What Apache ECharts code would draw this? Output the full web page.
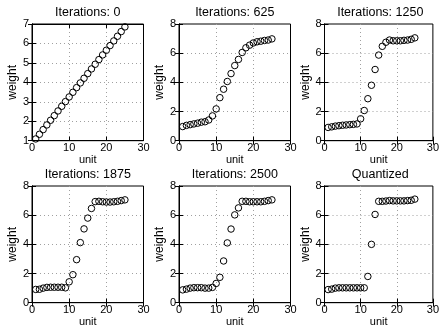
<!DOCTYPE html>
<html>
<head>
<meta charset="utf-8">
<script src="https://cdn.jsdelivr.net/npm/echarts@6/dist/echarts.min.js"></script>
<style>
  html, body { margin: 0; padding: 0; background: #fff; }
  #chart { width: 442px; height: 329px; }
</style>
</head>
<body>
<div id="chart"></div>
<script>
// Unit indices shared by every panel
const units = [1, 2, 3, 4, 5, 6, 7, 8, 9, 10, 11, 12, 13, 14, 15, 16, 17, 18, 19, 20, 21, 22, 23, 24, 25];

// Weight per unit at each training snapshot
const weightsIter0 = [1.09, 1.33, 1.57, 1.81, 2.05, 2.29, 2.53, 2.77, 3.01, 3.25, 3.49, 3.73, 3.97, 4.21, 4.45, 4.69, 4.93, 5.17, 5.41, 5.65, 5.89, 6.13, 6.37, 6.61, 6.85];
const weightsIter625 = [0.97, 1.05, 1.10, 1.15, 1.20, 1.27, 1.30, 1.42, 1.70, 2.18, 2.95, 3.53, 4.06, 4.60, 5.15, 5.57, 6.05, 6.37, 6.55, 6.70, 6.78, 6.82, 6.87, 6.90, 6.98];
const weightsIter1250 = [0.91, 0.95, 1.00, 1.03, 1.06, 1.08, 1.10, 1.12, 1.15, 1.50, 2.07, 2.88, 3.80, 4.88, 5.87, 6.47, 6.75, 6.90, 6.85, 6.85, 6.85, 6.88, 6.90, 6.95, 7.05];
const weightsIter1875 = [0.91, 0.92, 1.00, 1.05, 1.06, 1.06, 1.06, 1.06, 1.02, 1.43, 1.92, 2.95, 4.12, 5.06, 5.80, 6.46, 6.93, 6.95, 6.92, 6.90, 6.90, 6.92, 6.95, 7.00, 7.05];
const weightsIter2500 = [0.88, 0.93, 1.00, 1.03, 1.03, 1.03, 1.00, 1.00, 1.05, 1.32, 1.74, 2.86, 4.10, 5.05, 6.02, 6.50, 6.95, 6.95, 6.92, 6.92, 6.92, 6.92, 6.95, 7.00, 7.05];
const weightsQuantized = [0.90, 0.93, 1.00, 1.02, 1.02, 1.02, 1.02, 1.02, 1.02, 1.02, 1.02, 1.80, 4.00, 6.05, 6.95, 6.95, 6.97, 7.00, 6.98, 6.98, 6.98, 6.98, 7.00, 7.02, 7.10];

const panelTitles = ['Iterations: 0', 'Iterations: 625', 'Iterations: 1250', 'Iterations: 1875', 'Iterations: 2500', 'Quantized'];
const panelWeights = [weightsIter0, weightsIter625, weightsIter1250, weightsIter1875, weightsIter2500, weightsQuantized];

// Axis ranges and tick spacing
const xRange = { min: 0, max: 30, interval: 10 };
const yRanges = [
  { min: 1, max: 7, interval: 1 },
  { min: 0, max: 8, interval: 2 },
  { min: 0, max: 8, interval: 2 },
  { min: 0, max: 8, interval: 2 },
  { min: 0, max: 8, interval: 2 },
  { min: 0, max: 8, interval: 2 }
];
const xLabel = 'unit';
const yLabel = 'weight';

// Panel layout (pixels)
const colLeft = [32, 179, 324.5];
const rowTop = [24, 186];
const panelW = 111.5;
const panelH = 116.7;

const FONT = '"Liberation Sans", Arial, Helvetica, sans-serif';

const dotted = { color: '#a0a0a0', width: 1, type: [1, 3] };
const tick = { show: true, inside: true, length: 4, lineStyle: { color: '#000', width: 1 } };
const frameLine = { show: true, lineStyle: { color: '#000', width: 1 } };

const grids = [], xAxes = [], yAxes = [], series = [], texts = [];

panelTitles.forEach((title, i) => {
  const col = i % 3, row = Math.floor(i / 3);
  const left = colLeft[col], top = rowTop[row];
  const yr = yRanges[i];
  grids.push({
    left: left, top: top, width: panelW, height: panelH,
    show: true, borderColor: '#000', borderWidth: 1, backgroundColor: '#fff'
  });
  // bottom x axis carrying the data
  xAxes.push({
    gridIndex: i, type: 'value', position: 'bottom',
    min: xRange.min, max: xRange.max, interval: xRange.interval,
    name: xLabel, nameLocation: 'middle', nameGap: 13,
    nameTextStyle: { fontFamily: FONT, fontSize: 11, color: '#000' },
    axisLine: frameLine, axisTick: tick,
    axisLabel: { fontFamily: FONT, fontSize: 11, color: '#000', margin: 2 },
    splitLine: { show: true, showMinLine: false, showMaxLine: false, lineStyle: dotted }
  });
  // left y axis carrying the data
  yAxes.push({
    gridIndex: i, type: 'value', position: 'left',
    min: yr.min, max: yr.max, interval: yr.interval,
    name: yLabel, nameLocation: 'middle', nameGap: 10,
    nameTextStyle: { fontFamily: FONT, fontSize: 12, color: '#000' },
    axisLine: frameLine, axisTick: tick,
    axisLabel: { fontFamily: FONT, fontSize: 11, color: '#000', margin: 3 },
    splitLine: { show: true, showMinLine: false, showMaxLine: false, lineStyle: dotted }
  });
  series.push({
    type: 'scatter',
    xAxisIndex: 2 * i, yAxisIndex: 2 * i,
    data: units.map((u, k) => [u, panelWeights[i][k]]),
    symbol: 'circle', symbolSize: 6.5,
    itemStyle: { color: 'rgba(0,0,0,0)', borderColor: '#000', borderWidth: 1, opacity: 1 },
    emphasis: { disabled: true },
    silent: true
  });
  // top and right axes: frame ticks only
  xAxes.push({
    gridIndex: i, type: 'value', position: 'top',
    min: xRange.min, max: xRange.max, interval: xRange.interval,
    axisLine: frameLine, axisTick: tick,
    axisLabel: { show: false }, splitLine: { show: false }
  });
  yAxes.push({
    gridIndex: i, type: 'value', position: 'right',
    min: yr.min, max: yr.max, interval: yr.interval,
    axisLine: frameLine, axisTick: tick,
    axisLabel: { show: false }, splitLine: { show: false }
  });
  texts.push({
    type: 'text',
    x: left + panelW / 2, y: top - 11,
    style: {
      text: title, font: '12.5px ' + FONT, fill: '#000',
      textAlign: 'center', textVerticalAlign: 'middle'
    }
  });
});

const chart = echarts.init(document.getElementById('chart'), null, { renderer: 'canvas' });
chart.setOption({
  animation: false,
  backgroundColor: '#fff',
  grid: grids,
  xAxis: xAxes,
  yAxis: yAxes,
  series: series,
  graphic: texts
});
</script>
</body>
</html>
